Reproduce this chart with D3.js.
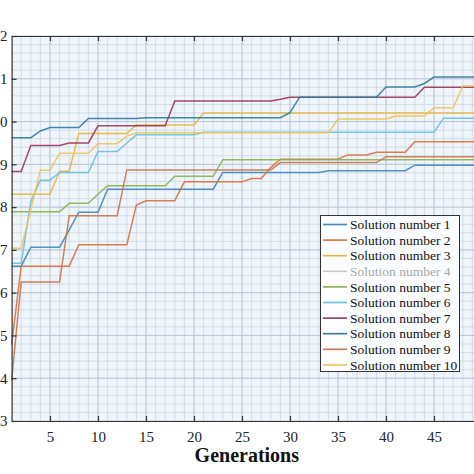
<!DOCTYPE html>
<html>
<head>
<meta charset="utf-8">
<script src="https://cdn.jsdelivr.net/npm/d3@7"></script>
<style>
  body { margin: 0; background: #fff; }
  svg { display: block; font-family: "Liberation Serif", "Times New Roman", serif; }
</style>
</head>
<body>
<div id="chart"></div>
<script>
// generations on the x axis
var generations = [1,2,3,4,5,6,7,8,9,10,11,12,13,14,15,16,17,18,19,20,
                   21,22,23,24,25,26,27,28,29,30,31,32,33,34,35,36,37,38,39,40,
                   41,42,43,44,45,46,47,48,49,50];

var xTicks = [5, 10, 15, 20, 25, 30, 35, 40, 45];
var yTicks = [3, 4, 5, 6, 7, 8, 9, 10, 11, 12];

var seriesNames = ["Solution number 1", "Solution number 2", "Solution number 3", "Solution number 4",
                   "Solution number 5", "Solution number 6", "Solution number 7", "Solution number 8",
                   "Solution number 9", "Solution number 10"];

// values, one per generation
var sol1 = [6.62,6.62,7.06,7.06,7.06,7.06,7.47,7.88,7.88,7.88,
            8.42,8.42,8.42,8.42,8.42,8.42,8.42,8.42,8.42,8.42,
            8.42,8.42,8.81,8.81,8.81,8.81,8.81,8.81,8.81,8.81,
            8.81,8.81,8.81,8.85,8.85,8.85,8.85,8.85,8.85,8.85,
            8.85,8.85,8.98,8.98,8.98,8.98,8.98,8.98,8.98,8.98];
var sol2 = [4.78,6.62,6.62,6.62,6.62,6.62,6.62,7.12,7.12,7.12,
            7.12,7.12,7.12,8.05,8.15,8.15,8.15,8.15,8.59,8.59,
            8.59,8.59,8.59,8.59,8.59,8.67,8.67,8.93,9.12,9.12,
            9.12,9.12,9.12,9.12,9.12,9.22,9.22,9.22,9.28,9.28,
            9.28,9.28,9.53,9.53,9.53,9.53,9.53,9.53,9.53,9.53];
var sol3 = [8.30,8.30,8.30,8.30,8.30,8.84,8.84,9.72,9.72,9.72,
            9.72,9.72,9.72,9.92,9.92,9.92,9.92,9.92,9.92,9.92,
            10.20,10.20,10.20,10.20,10.20,10.20,10.20,10.20,10.20,10.20,
            10.20,10.20,10.20,10.20,10.20,10.20,10.20,10.20,10.20,10.20,
            10.20,10.20,10.20,10.20,10.20,10.20,10.20,10.20,10.20,10.20];
var sol4 = [];
var sol5 = [7.89,7.89,7.89,7.89,7.89,7.89,8.09,8.09,8.09,8.30,
            8.50,8.50,8.50,8.50,8.50,8.50,8.50,8.72,8.72,8.72,
            8.72,8.72,9.11,9.11,9.11,9.11,9.11,9.11,9.11,9.11,
            9.11,9.11,9.11,9.11,9.11,9.11,9.11,9.11,9.11,9.11,
            9.11,9.11,9.11,9.11,9.11,9.11,9.11,9.11,9.11,9.11];
var sol6 = [6.69,6.69,8.13,8.63,8.63,8.81,8.81,8.81,8.81,9.30,
            9.30,9.30,9.50,9.69,9.69,9.69,9.69,9.69,9.69,9.69,
            9.75,9.75,9.75,9.75,9.75,9.75,9.75,9.75,9.75,9.75,
            9.75,9.75,9.75,9.75,9.75,9.75,9.75,9.75,9.75,9.75,
            9.75,9.75,9.75,9.75,9.75,10.08,10.08,10.08,10.08,10.08];
var sol7 = [8.83,8.83,9.44,9.44,9.44,9.44,9.50,9.50,9.50,9.90,
            9.90,9.90,9.90,9.90,9.90,9.90,9.90,10.48,10.48,10.48,
            10.48,10.48,10.48,10.48,10.48,10.48,10.48,10.48,10.52,10.57,
            10.57,10.57,10.57,10.57,10.57,10.57,10.57,10.57,10.57,10.57,
            10.57,10.57,10.57,10.80,10.80,10.80,10.80,10.80,10.80,10.80];
var sol8 = [9.62,9.62,9.62,9.78,9.86,9.86,9.86,9.86,10.07,10.07,
            10.07,10.07,10.07,10.07,10.09,10.09,10.09,10.09,10.09,10.09,
            10.09,10.09,10.09,10.09,10.09,10.09,10.09,10.09,10.09,10.21,
            10.57,10.57,10.57,10.57,10.57,10.57,10.57,10.57,10.57,10.81,
            10.81,10.81,10.81,10.89,11.04,11.04,11.04,11.04,11.04,11.04];
var sol9 = [3.95,6.25,6.25,6.25,6.25,6.25,7.80,7.80,7.80,7.80,
            7.80,7.80,8.87,8.87,8.87,8.87,8.87,8.87,8.87,8.87,
            8.87,8.87,8.87,8.87,8.87,8.87,8.87,8.87,9.04,9.04,
            9.04,9.04,9.04,9.04,9.04,9.04,9.04,9.04,9.04,9.18,
            9.18,9.18,9.18,9.18,9.18,9.18,9.18,9.18,9.18,9.18];
var sol10 = [7.04,7.04,7.95,8.86,8.86,9.26,9.26,9.26,9.26,9.48,
             9.48,9.48,9.66,9.74,9.74,9.74,9.74,9.74,9.74,9.74,
             9.74,9.74,9.74,9.74,9.74,9.74,9.74,9.74,9.74,9.74,
             9.74,9.74,9.74,9.74,10.06,10.06,10.06,10.06,10.06,10.06,
             10.13,10.13,10.13,10.13,10.32,10.32,10.32,10.83,10.83,10.83];

var allSeries = [sol1, sol2, sol3, sol4, sol5, sol6, sol7, sol8, sol9, sol10];
var colors = ["#3f86bd", "#d9703f", "#e9b43c", "#c8c8c8", "#86b24e",
              "#66c0e6", "#9a3556", "#2c7b9c", "#c9764a", "#efc357"];

var w = 474;
var h = 474;
var padLeft = 11.6, padTop = 36, plotRight = 482, plotBottom = 421;

var svg = d3.select("#chart")
    .append("svg")
    .attr("width", w)
    .attr("height", h);

var xScale = d3.scaleLinear()
    .domain([1, 50])
    .range([padLeft, plotRight]);

var yScale = d3.scaleLinear()
    .domain([3, 12])
    .range([plotBottom, padTop]);

// plot background
svg.append("rect")
    .attr("x", padLeft)
    .attr("y", padTop)
    .attr("width", plotRight - padLeft)
    .attr("height", plotBottom - padTop)
    .attr("fill", "#eff5fb");

// minor grid
var minorX = d3.range(2, 50, 1);
var minorY = d3.range(3.2, 12, 0.2);
svg.append("g").selectAll("line")
    .data(minorX)
    .join("line")
    .attr("x1", function(d) { return xScale(d); })
    .attr("x2", function(d) { return xScale(d); })
    .attr("y1", padTop)
    .attr("y2", plotBottom)
    .attr("stroke", "#cad7e3")
    .attr("stroke-width", 0.8);
svg.append("g").selectAll("line")
    .data(minorY)
    .join("line")
    .attr("x1", padLeft)
    .attr("x2", plotRight)
    .attr("y1", function(d) { return yScale(d); })
    .attr("y2", function(d) { return yScale(d); })
    .attr("stroke", "#cad7e3")
    .attr("stroke-width", 0.8);

// major grid
svg.append("g").selectAll("line")
    .data(xTicks)
    .join("line")
    .attr("x1", function(d) { return xScale(d); })
    .attr("x2", function(d) { return xScale(d); })
    .attr("y1", padTop)
    .attr("y2", plotBottom)
    .attr("stroke", "#b8c5d2")
    .attr("stroke-width", 0.9);
svg.append("g").selectAll("line")
    .data(yTicks)
    .join("line")
    .attr("x1", padLeft)
    .attr("x2", plotRight)
    .attr("y1", function(d) { return yScale(d); })
    .attr("y2", function(d) { return yScale(d); })
    .attr("stroke", "#b8c5d2")
    .attr("stroke-width", 0.9);

// lines
var line = d3.line()
    .x(function(d, i) { return xScale(generations[i]); })
    .y(function(d) { return yScale(d); });

svg.append("g").selectAll("path")
    .data(allSeries)
    .join("path")
    .attr("fill", "none")
    .attr("stroke", function(d, i) { return colors[i]; })
    .attr("stroke-width", 1.5)
    .attr("stroke-opacity", 0.9)
    .attr("d", function(d) { return d.length ? line(d) : null; });

// axes
var xAxis = d3.axisBottom(xScale).tickValues(xTicks).tickSizeInner(-5).tickSizeOuter(0).tickPadding(10);
var yAxis = d3.axisLeft(yScale).tickValues(yTicks).tickSizeInner(-5).tickSizeOuter(0).tickPadding(4);
var topAxis = d3.axisTop(xScale).tickValues(xTicks).tickSizeInner(-5).tickSizeOuter(0).tickFormat("");

var gx = svg.append("g")
    .attr("transform", "translate(0," + plotBottom + ")")
    .call(xAxis);
var gy = svg.append("g")
    .attr("transform", "translate(" + padLeft + ",0)")
    .call(yAxis);
var gt = svg.append("g")
    .attr("transform", "translate(0," + padTop + ")")
    .call(topAxis);

[gx, gy, gt].forEach(function(g) {
    g.select(".domain").attr("stroke", "#333").attr("stroke-width", 1.2);
    g.selectAll(".tick line").attr("stroke", "#333").attr("stroke-width", 1.2);
    g.selectAll(".tick text")
        .attr("fill", "#222")
        .style("font-size", "15px")
        .style("font-family", "'Liberation Serif', 'Times New Roman', serif");
});

svg.append("text")
    .attr("x", (padLeft + plotRight) / 2)
    .attr("y", 462)
    .attr("text-anchor", "middle")
    .attr("fill", "#111")
    .style("font-size", "20px")
    .style("font-weight", "bold")
    .text("Generations");

// legend
var lg = svg.append("g");
lg.append("rect")
    .attr("x", 320.5)
    .attr("y", 215.5)
    .attr("width", 139)
    .attr("height", 156)
    .attr("fill", "#fbfdff")
    .attr("stroke", "#333")
    .attr("stroke-width", 1);

var rows = lg.selectAll("g.item")
    .data(seriesNames)
    .join("g")
    .attr("class", "item")
    .attr("transform", function(d, i) { return "translate(0," + (224.5 + i * 15.6) + ")"; });

rows.append("line")
    .attr("x1", 323)
    .attr("x2", 347)
    .attr("stroke", function(d, i) { return colors[i]; })
    .attr("stroke-width", 1.6);

rows.append("text")
    .attr("x", 350)
    .attr("dy", "0.35em")
    .attr("fill", function(d, i) { return i === 3 ? "#a8a8a8" : "#111"; })
    .style("font-size", "13.5px")
    .text(function(d) { return d; });
</script>
</body>
</html>
